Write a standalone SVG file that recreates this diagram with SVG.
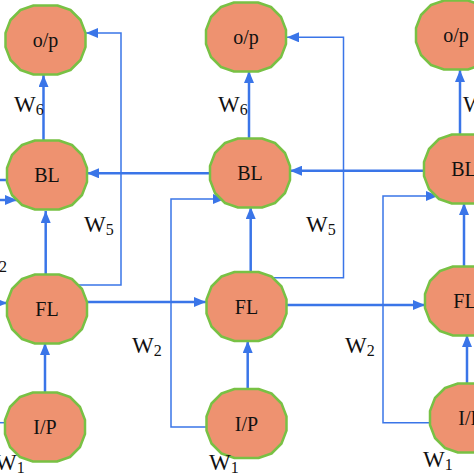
<svg xmlns="http://www.w3.org/2000/svg" xmlns:xlink="http://www.w3.org/1999/xlink" width="474" height="474" viewBox="0 0 474 474">
<style>
.node{fill:#EE9270;stroke:#78C144;stroke-width:2.5;stroke-linejoin:round}
.lbl{font-family:"Liberation Serif","Times New Roman",serif;font-size:20px;fill:#111;text-anchor:middle}
.w{font-family:"Liberation Serif","Times New Roman",serif;font-size:23px;fill:#111}
.sub{font-size:16px}
.thick{fill:none;stroke:#3A75E8;stroke-width:2.5}
.thin{fill:none;stroke:#3A75E8;stroke-width:1.5}
</style>
<defs>
<polygon id="shape" points="-12,-34.5 12,-34.5 25,-30 35,-20 40,-7 40,7 35,20 25,30 12,34.5 -12,34.5 -25,30 -35,20 -40,7 -40,-7 -35,-20 -25,-30"/>
<marker id="ah" markerUnits="userSpaceOnUse" markerWidth="12" markerHeight="10" refX="12" refY="5" orient="auto">
<path d="M0,0 L12,5 L0,10 z" fill="#3A75E8"/>
</marker>
</defs>
<rect width="474" height="474" fill="#fff"/>
<g id="connectors">
<path class="thick" d="M43.5,140 V75" marker-end="url(#ah)"/>
<path class="thick" d="M45.7,275 V211" marker-end="url(#ah)"/>
<path class="thick" d="M45,392 V343" marker-end="url(#ah)"/>
<path class="thick" d="M249,139 V71" marker-end="url(#ah)"/>
<path class="thick" d="M250.7,272 V207" marker-end="url(#ah)"/>
<path class="thick" d="M247.7,389 V341" marker-end="url(#ah)"/>
<path class="thick" d="M460,135 V70" marker-end="url(#ah)"/>
<path class="thick" d="M464,267 V203" marker-end="url(#ah)"/>
<path class="thick" d="M467,383 V335" marker-end="url(#ah)"/>
<path class="thick" d="M212,173.3 H87" marker-end="url(#ah)"/>
<path class="thick" d="M426,170.7 H290" marker-end="url(#ah)"/>
<path class="thick" d="M85,302 H206" marker-end="url(#ah)"/>
<path class="thick" d="M286,305 H425" marker-end="url(#ah)"/>
<path class="thick" d="M-10,303 H7" marker-end="url(#ah)"/>
<path class="thick" d="M0,180 H10"/>
<path class="thick" d="M0,200 H17" marker-end="url(#ah)"/>
<path class="thin" d="M77,285 H121 V33 H86" marker-end="url(#ah)"/>
<path class="thin" d="M270,277.7 H343.5 V37.3 H287" marker-end="url(#ah)"/>
<path class="thin" d="M208,427 H171 V199 H225" marker-end="url(#ah)"/>
<path class="thin" d="M432,422.7 H383 V196 H438" marker-end="url(#ah)"/>
<path class="thin" d="M6,422.7 H0"/>
</g>
<g id="op1"><use xlink:href="#shape" class="node" x="45.5" y="40"/><text class="lbl" x="45.5" y="47">o/p</text></g>
<g id="op2"><use xlink:href="#shape" class="node" x="246" y="37"/><text class="lbl" x="246" y="44">o/p</text></g>
<g id="op3"><use xlink:href="#shape" class="node" x="456" y="35"/><text class="lbl" x="456" y="42">o/p</text></g>
<g id="bl1"><use xlink:href="#shape" class="node" x="47" y="175"/><text class="lbl" x="47" y="182">BL</text></g>
<g id="bl2"><use xlink:href="#shape" class="node" x="250" y="173"/><text class="lbl" x="250" y="180">BL</text></g>
<g id="bl3"><use xlink:href="#shape" class="node" x="464" y="169"/><text class="lbl" x="464" y="176">BL</text></g>
<g id="fl1"><use xlink:href="#shape" class="node" x="47" y="309"/><text class="lbl" x="47" y="316">FL</text></g>
<g id="fl2"><use xlink:href="#shape" class="node" x="246.5" y="306.5"/><text class="lbl" x="246.5" y="313.5">FL</text></g>
<g id="fl3"><use xlink:href="#shape" class="node" x="465" y="301"/><text class="lbl" x="465" y="308">FL</text></g>
<g id="ip1"><use xlink:href="#shape" class="node" x="45" y="427"/><text class="lbl" x="45" y="434">I/P</text></g>
<g id="ip2"><use xlink:href="#shape" class="node" x="246.5" y="423.5"/><text class="lbl" x="246.5" y="430.5">I/P</text></g>
<g id="ip3"><use xlink:href="#shape" class="node" x="470" y="418"/><text class="lbl" x="470" y="425">I/P</text></g>
<g id="labels">
<text class="w" x="14" y="112">W<tspan class="sub" dy="3">6</tspan></text>
<text class="w" x="218" y="112">W<tspan class="sub" dy="3">6</tspan></text>
<text class="w" x="463" y="112">W<tspan class="sub" dy="3">6</tspan></text>
<text class="w" x="84" y="232">W<tspan class="sub" dy="3">5</tspan></text>
<text class="w" x="306" y="232">W<tspan class="sub" dy="3">5</tspan></text>
<text class="w" x="132" y="353">W<tspan class="sub" dy="3">2</tspan></text>
<text class="w" x="345" y="353">W<tspan class="sub" dy="3">2</tspan></text>
<text class="w sub" x="-1" y="272">2</text>
<text class="w" x="-5" y="470">W<tspan class="sub" dy="3">1</tspan></text>
<text class="w" x="209" y="470">W<tspan class="sub" dy="3">1</tspan></text>
<text class="w" x="423" y="467">W<tspan class="sub" dy="3">1</tspan></text>
</g>
</svg>
